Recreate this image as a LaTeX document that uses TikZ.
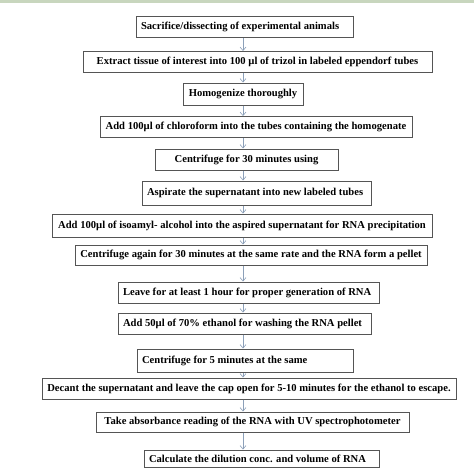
\documentclass[tikz,border=0pt]{standalone}
\usepackage{fontspec}
\setmainfont{Liberation Serif}
\usetikzlibrary{arrows.meta}
\definecolor{boxline}{RGB}{85,85,85}
\definecolor{arrline}{RGB}{140,160,185}
\definecolor{topband}{RGB}{200,214,190}
\tikzset{
  stepbox/.style={draw=boxline, line width=1pt, inner sep=0pt, minimum height=21pt,
    font=\fontsize{10.6}{12}\selectfont\bfseries},
  leftbox/.style={stepbox, inner xsep=5pt, text width=#1-10pt, align=flush left},
  flow/.style={arrline, line width=0.6pt, -{Straight Barb[length=3.5pt,width=6pt]}}
}
\begin{document}
\begin{tikzpicture}[x=1pt,y=-1pt]
\useasboundingbox (0,0) rectangle (474,474);
\fill[topband] (0,0) rectangle (474,3);
% steps of the protocol
\node[leftbox=217pt] (s1) at (244.5,27) {Sacrifice/dissecting of experimental animals};
\node[stepbox, minimum width=349pt] (s2) at (257.5,62) {Extract tissue of interest into 100 µl of trizol in labeled eppendorf tubes};
\node[stepbox, minimum width=120pt, minimum height=22pt] (s3) at (243,94) {Homogenize thoroughly};
\node[stepbox, minimum width=312pt] (s4) at (256,127) {Add 100µl of chloroform into the tubes containing the homogenate};
\node[stepbox, minimum width=183pt] (s5) at (246.5,159.5) {Centrifuge for 30 minutes using};
\node[leftbox=229pt, minimum height=24pt] (s6) at (256.5,193) {Aspirate the supernatant into new labeled tubes};
\node[stepbox, minimum width=380pt, minimum height=23pt] (s7) at (242,225.5) {Add 100µl of isoamyl- alcohol into the aspired supernatant for RNA precipitation};
\node[stepbox, minimum width=352pt, minimum height=20pt] (s8) at (251,255) {Centrifuge again for 30 minutes at the same rate and the RNA form a pellet};
\node[leftbox=261pt] (s9) at (248.5,292.5) {Leave for at least 1 hour for proper generation of RNA};
\node[leftbox=253pt] (s10) at (244.5,323.5) {Add 50µl of 70\% ethanol for washing the RNA pellet};
\node[leftbox=216pt, minimum height=23pt] (s11) at (245,360.5) {Centrifuge for 5 minutes at the same};
\node[stepbox, minimum width=414pt] (s12) at (249,388.5) {Decant the supernatant and leave the cap open for 5-10 minutes for the ethanol to escape.};
\node[stepbox, minimum width=313pt, minimum height=20pt] (s13) at (252.5,422) {Take absorbance reading of the RNA with UV spectrophotometer};
\node[leftbox=235pt, minimum height=17pt] (s14) at (261.5,458.5) {Calculate the dilution conc. and volume of RNA};
% arrows
\coordinate (ax) at (243,0);
\foreach \a/\b in {s1/s2,s2/s3,s3/s4,s4/s5,s5/s6,s6/s7,s7/s8,s8/s9,s9/s10,s10/s11,s11/s12,s12/s13,s13/s14}
  \draw[flow] (\a.south -| ax) -- (\b.north -| ax);
\end{tikzpicture}
\end{document}
